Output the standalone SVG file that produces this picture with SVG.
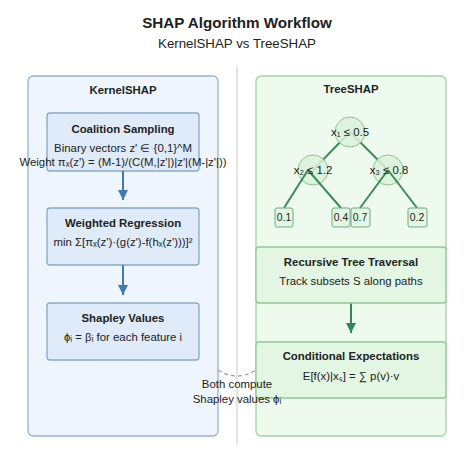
<svg xmlns="http://www.w3.org/2000/svg" width="474" height="474" viewBox="0 0 474 474">
<defs>
<marker id="ab" viewBox="0 0 10 10" refX="10" refY="5" markerWidth="10" markerHeight="10" markerUnits="userSpaceOnUse" orient="auto"><path d="M0,0 L10,5 L0,10 z" fill="#3f7ab4"/></marker>
<marker id="ag" viewBox="0 0 10 10" refX="10" refY="5" markerWidth="10" markerHeight="10" markerUnits="userSpaceOnUse" orient="auto"><path d="M0,0 L10,5 L0,10 z" fill="#2e8b57"/></marker>
</defs>
<style>
text{font-family:"Liberation Sans",Arial,sans-serif;fill:#222;text-anchor:middle}
.t{font-size:15.2px;font-weight:bold}
.st{font-size:13.3px}
.h{font-size:11.4px;font-weight:bold}
.b{font-size:11.4px}
.lf{font-size:10.4px}
.lp{fill:#eef5fd;stroke:#9ab3cc;stroke-width:1.3}
.lb{fill:#dfebf8;stroke:#86a9cb;stroke-width:1.3}
.rp{fill:#eefaee;stroke:#a3d3a3;stroke-width:1.3}
.rb{fill:#e3f6e3;stroke:#92c892;stroke-width:1.3}
.cn{fill:#d9f1d9;fill-opacity:0.85;stroke:#8fc48f;stroke-width:1}
.lv{fill:#e3f6e3;stroke:#6faa7f;stroke-width:1}
.e{stroke:#3d8a5a;stroke-width:2;fill:none}
</style>
<rect width="474" height="474" fill="#ffffff"/>
<g id="title">
<text class="t" x="237" y="28">SHAP Algorithm Workflow</text>
<text class="st" x="237" y="48">KernelSHAP vs TreeSHAP</text>
</g>
<line x1="237" y1="66" x2="237" y2="445" stroke="#dddddd" stroke-width="1.5"/>
<g id="kernelshap">
<rect class="lp" x="28" y="76" width="190" height="360" rx="5"/>
<text class="h" x="123" y="94">KernelSHAP</text>
</g>
<g id="treeshap">
<rect class="rp" x="256" y="76" width="190" height="360" rx="5"/>
<text class="h" x="351" y="93">TreeSHAP</text>
</g>
<g id="coalition">
<rect class="lb" x="47" y="113" width="152" height="58" rx="3"/>
<text class="h" x="123" y="133">Coalition Sampling</text>
<text class="b" x="123" y="152">Binary vectors z' ∈ {0,1}^M</text>
<text class="b" x="123" y="166">Weight πₓ(z') = (M-1)/(C(M,|z'|)|z'|(M-|z'|))</text>
</g>
<g id="regression">
<rect class="lb" x="47" y="208" width="152" height="57" rx="3"/>
<text class="h" x="123" y="227">Weighted Regression</text>
<text class="b" x="123" y="246">min Σ[πₓ(z')·(g(z')-f(hₓ(z')))]²</text>
</g>
<g id="shapley">
<rect class="lb" x="47" y="303" width="152" height="57" rx="3"/>
<text class="h" x="123" y="322">Shapley Values</text>
<text class="b" x="123" y="341">ϕᵢ = βᵢ for each feature i</text>
</g>
<g id="connectors">
<line x1="123" y1="171" x2="123" y2="200" stroke="#3f7ab4" stroke-width="2" marker-end="url(#ab)"/>
<line x1="123" y1="265" x2="123" y2="295" stroke="#3f7ab4" stroke-width="2" marker-end="url(#ab)"/>
<line x1="351" y1="303" x2="351" y2="333" stroke="#2e8b57" stroke-width="2" marker-end="url(#ag)"/>
<line class="e" x1="350" y1="132" x2="313" y2="170"/>
<line class="e" x1="350" y1="132" x2="388" y2="170"/>
<path d="M218,370 Q237,382 256,370" fill="none" stroke="#999999" stroke-width="1.2" stroke-dasharray="4,3"/>
</g>
<g id="root">
<circle class="cn" cx="350" cy="132" r="15"/>
<text class="b" x="350" y="136">x₁ ≤ 0.5</text>
</g>
<g id="node-left">
<circle class="cn" cx="313" cy="170" r="15"/>
</g>
<g id="node-right">
<circle class="cn" cx="388" cy="170" r="15"/>
</g>
<g id="leaf-edges">
<line class="e" x1="308" y1="170" x2="284" y2="208"/>
<line class="e" x1="308" y1="170" x2="341" y2="208"/>
<line class="e" x1="388" y1="170" x2="360" y2="208"/>
<line class="e" x1="388" y1="170" x2="417" y2="208"/>
</g>
<g id="node-left-label"><text class="b" x="313" y="174">x₂ ≤ 1.2</text></g>
<g id="node-right-label"><text class="b" x="389" y="174">x₃ ≤ 0.8</text></g>
<g id="leaf1"><rect class="lv" x="275" y="208" width="18" height="19" rx="2"/><text class="lf" x="284" y="221">0.1</text></g>
<g id="leaf2"><rect class="lv" x="332" y="208" width="18" height="19" rx="2"/><text class="lf" x="341" y="221">0.4</text></g>
<g id="leaf3"><rect class="lv" x="351" y="208" width="19" height="19" rx="2"/><text class="lf" x="360" y="221">0.7</text></g>
<g id="leaf4"><rect class="lv" x="408" y="208" width="19" height="19" rx="2"/><text class="lf" x="417" y="221">0.2</text></g>
<g id="traversal">
<rect class="rb" x="256" y="247" width="190" height="56" rx="3"/>
<text class="h" x="351" y="266">Recursive Tree Traversal</text>
<text class="b" x="351" y="285">Track subsets S along paths</text>
</g>
<g id="expectations">
<rect class="rb" x="256" y="342" width="190" height="56" rx="3"/>
<text class="h" x="351" y="360">Conditional Expectations</text>
<text class="b" x="351" y="380">E[f(x)|xₛ] = ∑ p(v)·v</text>
</g>
<g id="note">
<text class="b" x="237" y="388">Both compute</text>
<text class="b" x="237" y="403">Shapley values ϕᵢ</text>
</g>
</svg>
